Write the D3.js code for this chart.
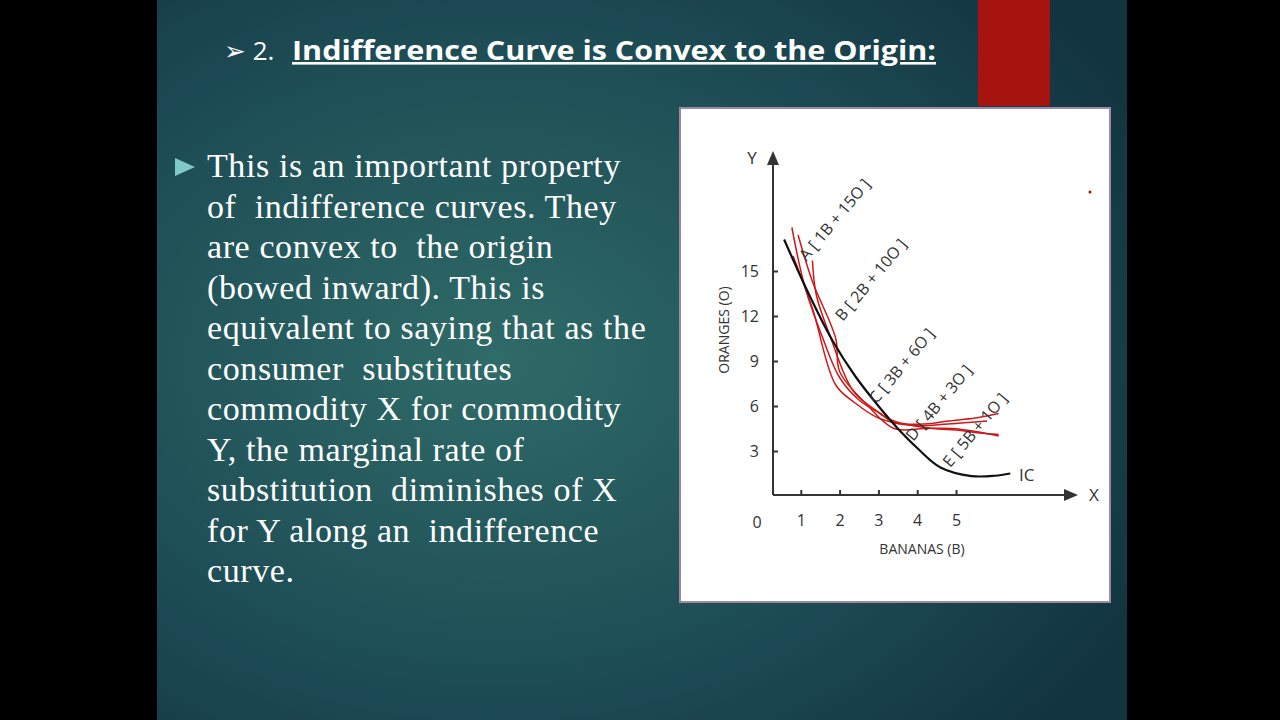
<!DOCTYPE html>
<html><head><meta charset="utf-8">
<script src="https://cdn.jsdelivr.net/npm/d3@7"></script>
<style>body{margin:0;background:#000;}svg{display:block}text{white-space:pre}</style>
</head><body>
<svg id="c" width="1280" height="720"></svg>
<script>
// ---- data ----
const xTicks = [1, 2, 3, 4, 5];
const yTicks = [3, 6, 9, 12, 15];
const icCurve = [[0.57,17.1],[1.2,13.5],[1.83,10.3],[2.4,8],[3.0,6],[3.5,4.5],[4.0,3.2],[4.6,1.9],[5.4,1.33],[6.0,1.35],[6.4,1.5]];
const redCurves = [
  [[0.77,17.9],[1.1,14],[1.57,10.5],[2.0,7.9],[2.5,6.4],[3.04,5.5],[3.4,4.9],[4.2,4.8],[4.8,5.0],[5.5,5.2],[6.1,5.5]],
  [[0.93,17.4],[1.3,14.3],[1.9,10.5],[2.0,8.3],[2.7,6.1],[3.4,4.5],[4.2,4.5],[4.9,4.5],[5.5,4.3],[6.1,4.0]],
  [[0.8,16],[1.3,12.5],[1.9,7.4],[2.4,6.2],[3.0,5.2],[3.9,4.7],[4.8,4.8],[5.8,5.0]],
  [[1.3,15.7],[1.4,13.4],[1.75,10.7],[2.35,7],[3.0,5.6],[3.4,5],[4.4,4.5],[5.0,4.4],[5.6,4.2],[6.1,4.1]]
];
const labels = [
  {t:"A [ 1B + 15O ]", x:1.15, y:15.6},
  {t:"B [ 2B + 10O ]", x:2.08, y:11.6},
  {t:"C [ 3B + 6O ]", x:2.95, y:6.1},
  {t:"D [ 4B + 3O ]", x:3.9, y:3.6},
  {t:"E [ 5B + 1O ]", x:4.85, y:1.85}
];
const bodyLines = ["This is an important property","of  indifference curves. They","are convex to  the origin","(bowed inward). This is","equivalent to saying that as the","consumer  substitutes","commodity X for commodity","Y, the marginal rate of","substitution  diminishes of X","for Y along an  indifference","curve."];

const svg = d3.select("#c");
const defs = svg.append("defs");
const g = defs.append("radialGradient").attr("id","bg").attr("cx","0.35").attr("cy","0.5").attr("r","0.75");
g.append("stop").attr("offset","0").attr("stop-color","#2f6b68");
g.append("stop").attr("offset","0.6").attr("stop-color","#1d4c55");
g.append("stop").attr("offset","1").attr("stop-color","#123440");
svg.append("rect").attr("width",1280).attr("height",720).attr("fill","#000");
svg.append("rect").attr("x",157).attr("width",970).attr("height",720).attr("fill","url(#bg)");
svg.append("rect").attr("x",978).attr("y",0).attr("width",72).attr("height",106).attr("fill","#a5140f");

// title
svg.append("text").attr("x",224).attr("y",60).attr("fill","#fff").attr("font-family","Open Sans").attr("font-size",26).text("➢ 2.");
svg.append("text").attr("x",292).attr("y",60).attr("fill","#fff").attr("font-family","Open Sans").attr("font-weight","bold").attr("font-size",26).attr("text-decoration","underline").attr("textLength",644).attr("lengthAdjust","spacingAndGlyphs").text("Indifference Curve is Convex to the Origin:");

// body
svg.append("path").attr("d","M175,158 L195,167 L175,176 Z").attr("fill","#7fc9c9");
bodyLines.forEach((l,i)=>svg.append("text").attr("x",207).attr("y",177+i*40.5).attr("fill","#fff")
  .attr("font-family","Liberation Serif").attr("font-size",34).attr("letter-spacing",0.6).text(l));

// chart box
svg.append("rect").attr("x",680).attr("y",108).attr("width",430).attr("height",494).attr("fill","#fff").attr("stroke","#9a8aa8").attr("stroke-width",2);
svg.append("circle").attr("cx",1090).attr("cy",192).attr("r",1.5).attr("fill","#c00");

const x = d3.scaleLinear().domain([0,6]).range([762,994.8]);
const y = d3.scaleLinear().domain([0,15]).range([496,271]);
const ax = "#333";
svg.append("line").attr("x1",773).attr("y1",495).attr("x2",1066).attr("y2",495).attr("stroke",ax).attr("stroke-width",2);
svg.append("path").attr("d","M1064,489 L1078,495 L1064,501 Z").attr("fill",ax);
svg.append("line").attr("x1",773).attr("y1",495).attr("x2",773).attr("y2",163).attr("stroke",ax).attr("stroke-width",2);
svg.append("path").attr("d","M767,165 L773,151 L779,165 Z").attr("fill",ax);
const xa = svg.append("g").attr("transform","translate(0,495)").call(d3.axisBottom(x).tickValues(xTicks).tickSize(-5).tickPadding(20).tickFormat(d3.format("d")));
const ya = svg.append("g").attr("transform","translate(773,0)").call(d3.axisLeft(y).tickValues(yTicks).tickSize(-5).tickPadding(14).tickFormat(d3.format("d")));
[xa,ya].forEach(a=>{a.select(".domain").remove();a.selectAll("line").attr("stroke",ax).attr("stroke-width",2);
  a.selectAll("text").attr("font-family","Open Sans").attr("font-size",16).attr("fill","#333");});
svg.append("text").attr("x",757).attr("y",528).attr("font-family","Open Sans").attr("font-size",16).attr("fill","#333").attr("text-anchor","middle").text("0");
svg.append("text").attr("x",752).attr("y",164).attr("font-family","Open Sans").attr("font-size",17).attr("fill","#333").attr("text-anchor","middle").text("Y");
svg.append("text").attr("x",1094).attr("y",501).attr("font-family","Open Sans").attr("font-size",17).attr("fill","#333").attr("text-anchor","middle").text("X");
svg.append("text").attr("x",1019).attr("y",481).attr("font-family","Open Sans").attr("font-size",17).attr("fill","#333").text("IC");
svg.append("text").attr("x",922).attr("y",554).attr("font-family","Open Sans").attr("font-size",14).attr("fill","#333").attr("text-anchor","middle").text("BANANAS (B)");
svg.append("text").attr("transform","translate(729,330) rotate(-90)").attr("font-family","Open Sans").attr("font-size",14).attr("fill","#333").attr("text-anchor","middle").text("ORANGES (O)");

const line = d3.line().x(d=>x(d[0])).y(d=>y(d[1])).curve(d3.curveCatmullRom);
redCurves.forEach(c=>svg.append("path").attr("d",line(c)).attr("fill","none").attr("stroke","#cc1a1a").attr("stroke-width",1.5));
svg.append("path").attr("d",line(icCurve)).attr("fill","none").attr("stroke","#111").attr("stroke-width",2.2);

labels.forEach(l=>svg.append("text").attr("transform",`translate(${x(l.x)},${y(l.y)}) rotate(-50)`)
  .attr("font-family","Open Sans").attr("font-size",16).attr("fill","#333").text(l.t));
</script>
</body></html>
